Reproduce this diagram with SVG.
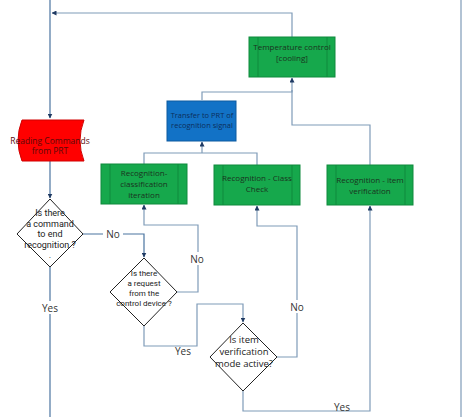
<svg xmlns="http://www.w3.org/2000/svg" width="474" height="417" viewBox="0 0 474 417">
<defs>
<marker id="ah" viewBox="0 0 10 10" refX="9" refY="5" markerWidth="5" markerHeight="5" orient="auto" markerUnits="userSpaceOnUse">
<path d="M0,0 L10,5 L0,10 Z" fill="#1f3a63"/>
</marker>
<style>
.ln{fill:none;stroke:#7f9bb8;stroke-width:1.2}
.lnd{fill:none;stroke:#4a74a0;stroke-width:1.2}
.g{fill:#16a84c;stroke:#0f8a3c;stroke-width:1}
.gi{stroke:#0f8a3c;stroke-width:1}
.t{font-family:"Open Sans","Noto Sans",sans-serif;font-size:8px;fill:#1a3320;text-anchor:middle}
.d{fill:#fff;stroke:#222;stroke-width:1}
.dt{font-family:"Open Sans","Noto Sans",sans-serif;font-size:9px;fill:#222;text-anchor:middle}
.dr{font-family:Roboto,"Open Sans",sans-serif;font-size:9px;fill:#222;text-anchor:middle}
.lb{font-family:"Open Sans","Noto Sans",sans-serif;font-size:10px;fill:#333;text-anchor:middle}
</style>
</defs>
<rect width="474" height="417" fill="#fff"/>
<g id="connectors">
<path class="lnd" d="M50,0 V118" marker-end="url(#ah)"/>
<path class="ln" d="M292,37 V13 H52" marker-end="url(#ah)"/>
<path class="ln" d="M461,0 V417"/>
<path class="lnd" d="M50,161 V198" marker-end="url(#ah)"/>
<path class="ln" d="M202,100 V92 H292 V78" marker-end="url(#ah)"/>
<path class="ln" d="M370,165 V125 H292 V90"/>
<path class="ln" d="M144,164 V153 H257 V165"/>
<path class="ln" d="M202,153 V142" marker-end="url(#ah)"/>
<path class="lnd" d="M83,234 H144 V257" marker-end="url(#ah)"/>
<path class="ln" d="M177,292 H198 V225 H144 V205" marker-end="url(#ah)"/>
<path class="ln" d="M144,326 V346 H197 V304 H243 V322" marker-end="url(#ah)"/>
<path class="ln" d="M277,357 H297 V226 H257 V206" marker-end="url(#ah)"/>
<path class="ln" d="M243,391 V411 H370 V206" marker-end="url(#ah)"/>
<path class="lnd" d="M50,267 V417"/>
<rect x="103" y="227" width="20" height="13" fill="#fff"/>
<text class="lb" x="113" y="238">No</text>
<rect x="188" y="252" width="18" height="13" fill="#fff"/>
<text class="lb" x="197" y="263">No</text>
<rect x="288" y="300" width="18" height="13" fill="#fff"/>
<text class="lb" x="297" y="311">No</text>
<rect x="41" y="301" width="18" height="13" fill="#fff"/>
<text class="lb" x="50" y="312">Yes</text>
<text class="lb" x="183" y="355">Yes</text>
<text class="lb" x="342" y="411">Yes</text>
</g>
<g id="temp">
<rect class="g" x="249" y="37" width="86" height="40"/>
<line class="gi" x1="258" y1="37" x2="258" y2="77"/>
<line class="gi" x1="327" y1="37" x2="327" y2="77"/>
<text class="t" x="292" y="50">Temperature control</text>
<text class="t" x="292" y="61">[cooling]</text>
</g>
<g id="transfer">
<rect x="167" y="101" width="69" height="40" fill="#1272c6" stroke="#0d5aa0"/>
<text class="t" x="202" y="118" style="fill:#0c2f5c;font-size:7.5px">Transfer to PRT of</text>
<text class="t" x="202" y="128" style="fill:#0c2f5c;font-size:7.5px">recognition signal</text>
</g>
<g id="rci">
<rect class="g" x="101" y="164" width="86" height="40"/>
<line class="gi" x1="110" y1="164" x2="110" y2="204"/>
<line class="gi" x1="178" y1="164" x2="178" y2="204"/>
<text class="t" x="144" y="176">Recognition-</text>
<text class="t" x="144" y="187">classification</text>
<text class="t" x="144" y="198">iteration</text>
</g>
<g id="rcc">
<rect class="g" x="214" y="165" width="86" height="40"/>
<line class="gi" x1="223" y1="165" x2="223" y2="205"/>
<line class="gi" x1="292" y1="165" x2="292" y2="205"/>
<text class="t" x="257" y="181">Recognition - Class</text>
<text class="t" x="257" y="192">Check</text>
</g>
<g id="riv">
<rect class="g" x="327" y="165" width="86" height="40"/>
<line class="gi" x1="336" y1="165" x2="336" y2="205"/>
<line class="gi" x1="405" y1="165" x2="405" y2="205"/>
<text class="t" x="370" y="183">Recognition - item</text>
<text class="t" x="370" y="194">verification</text>
</g>
<g id="reading">
<path d="M22,120 H84 Q76,140.5 84,161 H22 Q14,140.5 22,120 Z" fill="#ff0000" stroke="#d00000"/>
<text class="t" x="50" y="144" style="fill:#5a0a0a;font-size:8.5px">Reading Commands</text>
<text class="t" x="50" y="154" style="fill:#5a0a0a;font-size:8.5px">from PRT</text>
</g>
<g id="d1">
<polygon class="d" points="50,199 83,234 50,267 17,234"/>
<text class="dr" x="50" y="216">Is there</text>
<text class="dr" x="50" y="226.5">a command</text>
<text class="dr" x="50" y="237">to end</text>
<text class="dr" x="50" y="247.5">recognition ?</text>
<text class="dr" x="50" y="258">.</text>
</g>
<g id="d2">
<polygon class="d" points="144,258 177,292 144,326 110,292"/>
<text class="dr" x="144" y="276" style="font-size:8px">Is there</text>
<text class="dr" x="144" y="286" style="font-size:8px">a request</text>
<text class="dr" x="144" y="296" style="font-size:8px">from the</text>
<text class="dr" x="144" y="306" style="font-size:8px">control device ?</text>
</g>
<g id="d3">
<polygon class="d" points="243,323 277,357 243,391 210,357"/>
<text class="dt" x="244" y="343" style="font-size:9.5px">Is item</text>
<text class="dt" x="244" y="355" style="font-size:9.5px">verification</text>
<text class="dt" x="244" y="367" style="font-size:9.5px">mode active?</text>
</g>
</svg>
